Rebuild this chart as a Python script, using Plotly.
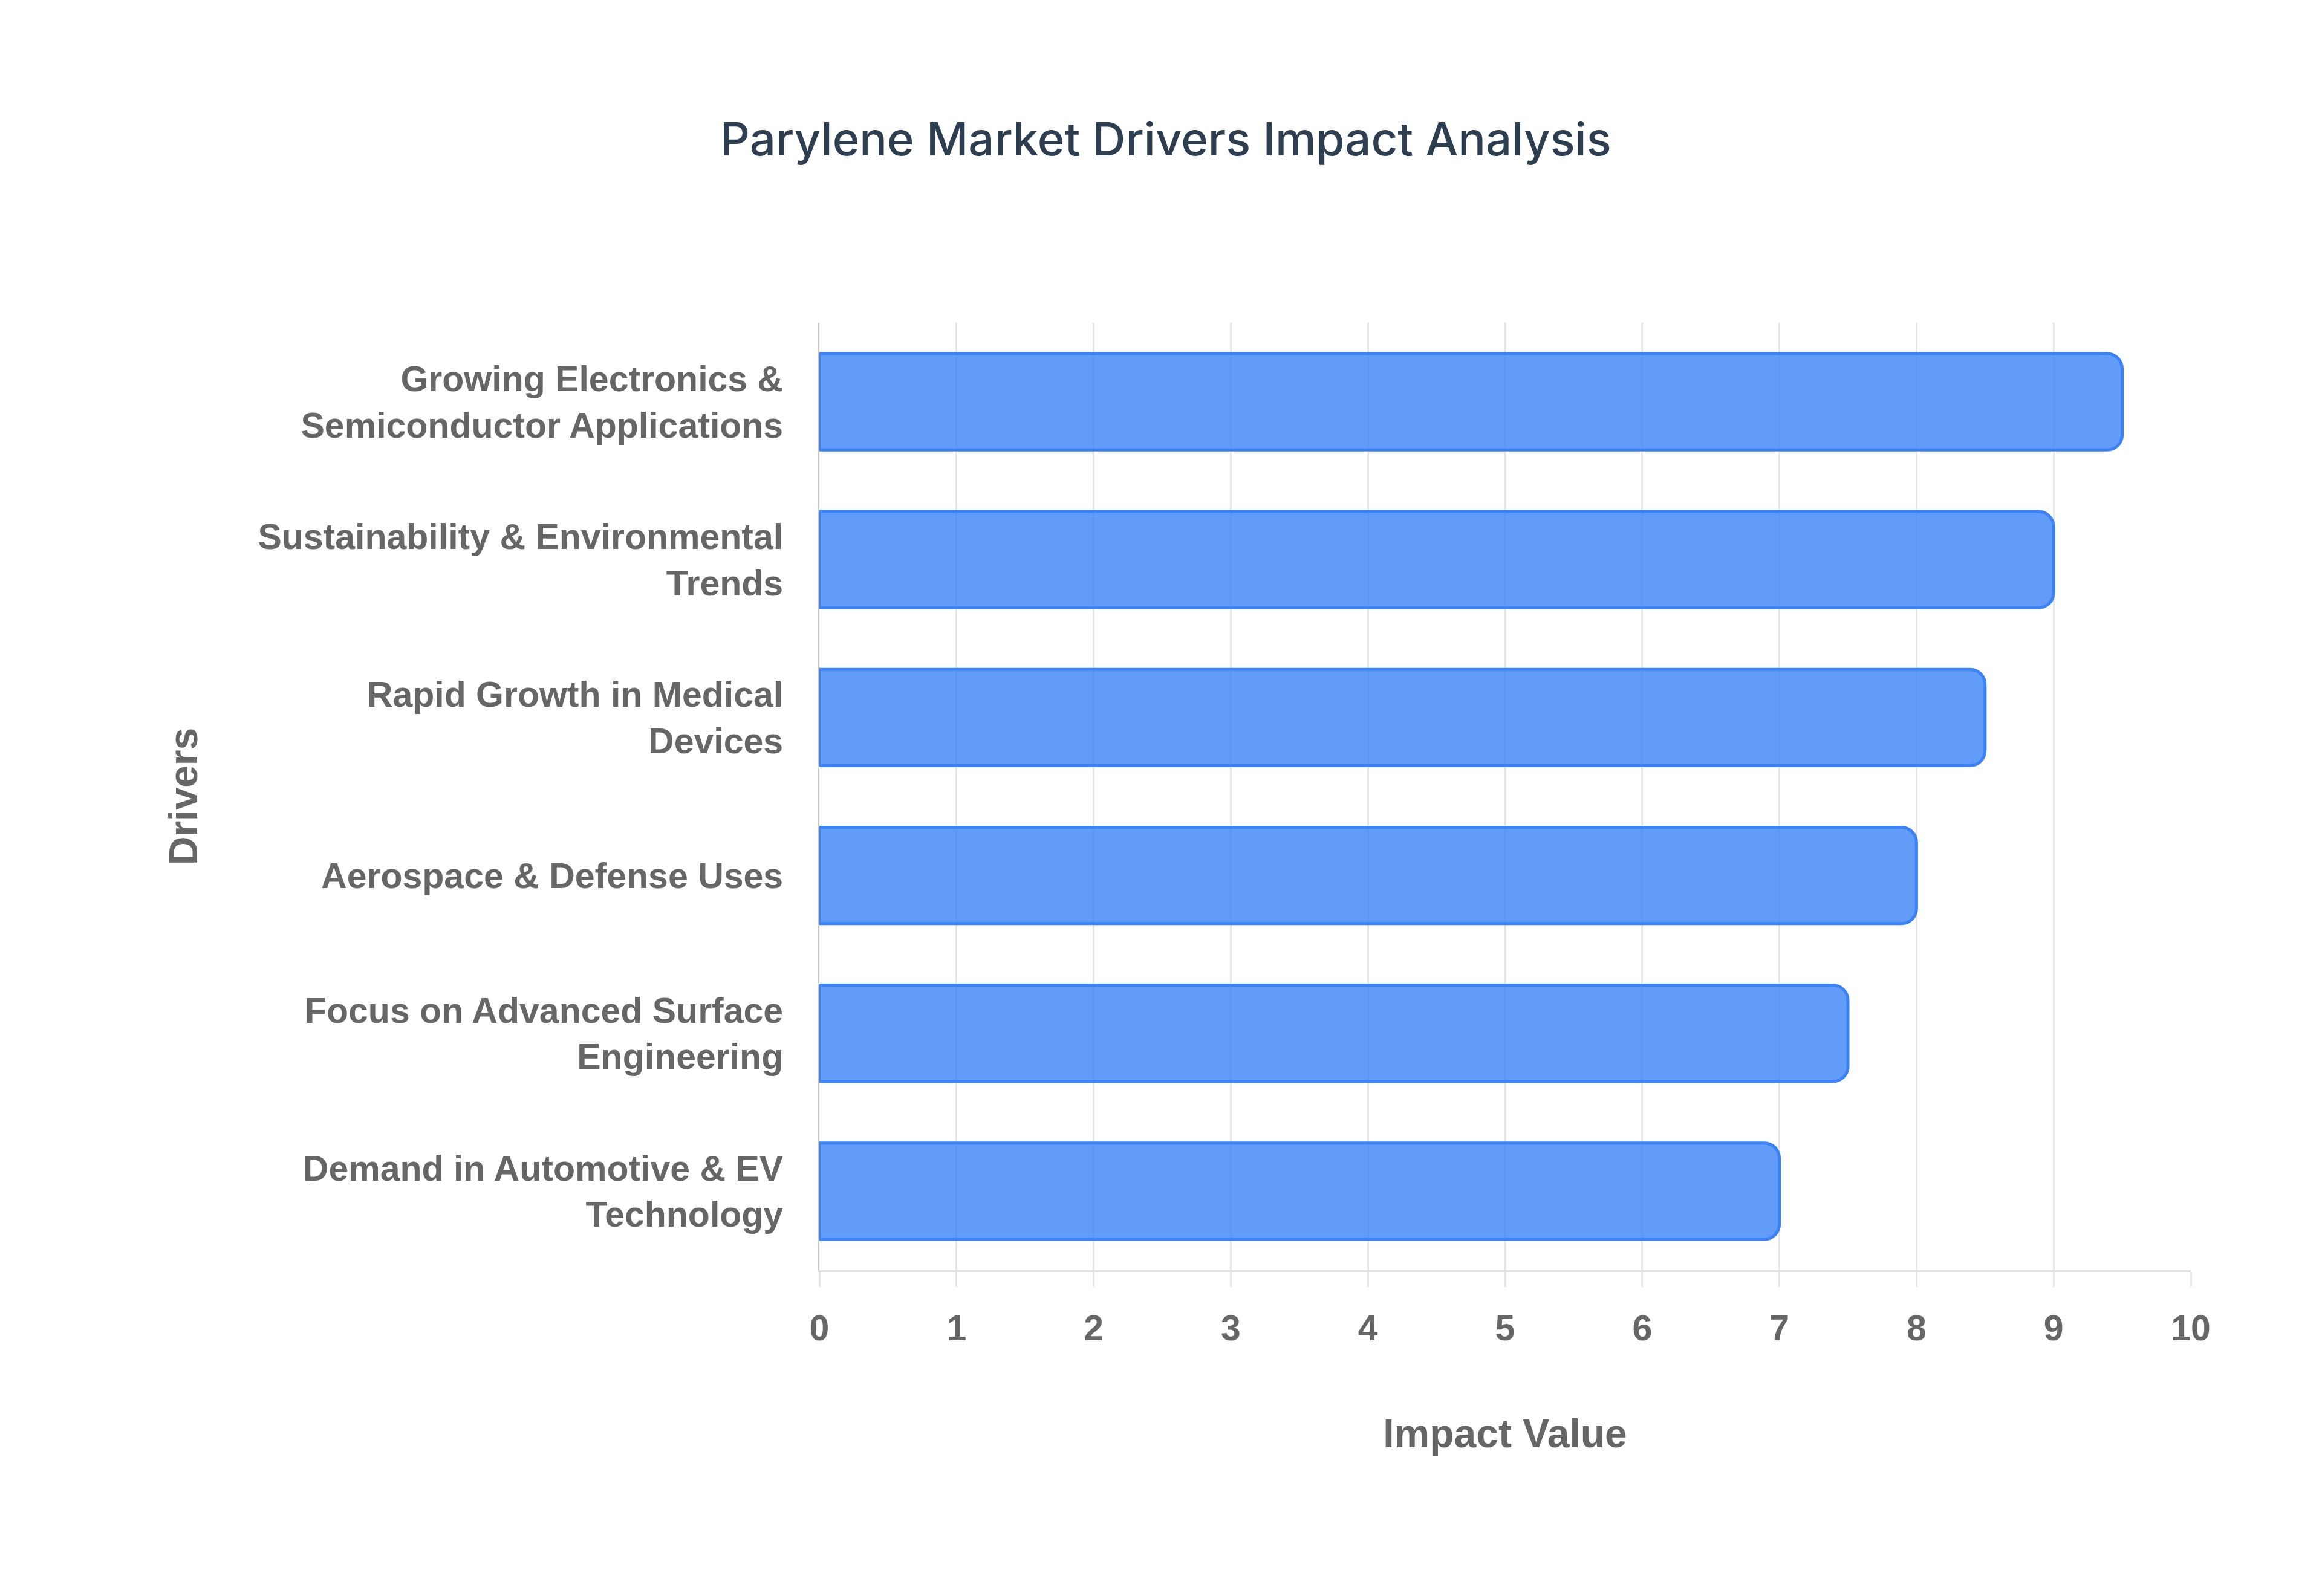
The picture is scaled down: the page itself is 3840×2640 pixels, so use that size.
import plotly.graph_objects as go

# drivers listed top to bottom, as they appear on the chart
drivers = [
    "Growing Electronics &<br>Semiconductor Applications",
    "Sustainability & Environmental<br>Trends",
    "Rapid Growth in Medical<br>Devices",
    "Aerospace & Defense Uses",
    "Focus on Advanced Surface<br>Engineering",
    "Demand in Automotive & EV<br>Technology",
]
impact = [9.5, 9.0, 8.5, 8.0, 7.5, 7.0]
x_ticks = list(range(0, 11))

W, H = 3840, 2640
tick_font = dict(family="Liberation Sans, Arial, sans-serif", size=59, color="#666666", weight="bold")
axis_title_font = dict(family="Liberation Sans, Arial, sans-serif", size=66, color="#666666", weight="bold")

fig = go.Figure()
fig.add_trace(go.Bar(
    x=impact,
    y=drivers,
    orientation="h",
    marker=dict(
        color="rgba(59,130,246,0.8)",
        line=dict(color="#3b82f6", width=5),
        cornerradius=25,
    ),
    hoverinfo="x+y",
))

fig.update_layout(
    width=W,
    height=H,
    paper_bgcolor="white",
    plot_bgcolor="white",
    bargap=0.39,
    showlegend=False,
    margin=dict(l=1347, r=225, t=526, b=547),
    title=dict(
        text="Parylene Market Drivers Impact Analysis",
        x=0.5,
        xanchor="center",
        y=1 - 222 / H,
        yanchor="middle",
        font=dict(family="Inter, Noto Sans, sans-serif", size=76, color="#2c3e50", weight=500),
    ),
    xaxis=dict(
        range=[0, 10],
        tickvals=x_ticks,
        tickfont=tick_font,
        showgrid=True,
        gridcolor="#e6e6e6",
        gridwidth=3,
        showline=True,
        linecolor="#e0e0e0",
        linewidth=3,
        zeroline=False,
        ticks="outside",
        ticklen=25,
        tickwidth=3,
        tickcolor="#e6e6e6",
        ticklabelstandoff=17,
        title=dict(text="Impact Value", font=axis_title_font, standoff=120),
    ),
    yaxis=dict(
        autorange="reversed",
        tickfont=tick_font,
        showgrid=False,
        showline=True,
        linecolor="#cccccc",
        linewidth=3,
        ticks="",
        ticklabelstandoff=45,
        title=dict(text="Drivers", font=axis_title_font, standoff=79),
    ),
)

fig.write_html("out.html")
